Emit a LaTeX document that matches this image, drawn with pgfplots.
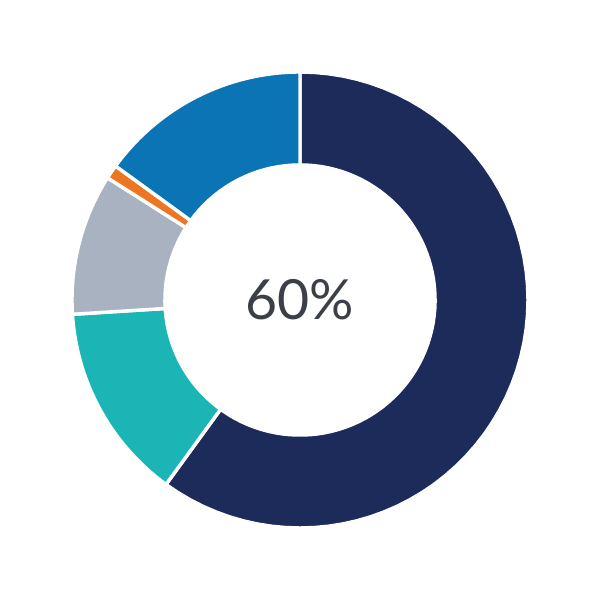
\documentclass[border=0pt]{standalone}
\usepackage{pgfplots}
\pgfplotsset{compat=1.18}
\usepackage{fontspec}
\setmainfont{Lato}
\definecolor{cnavy}{HTML}{1C2B5A}
\definecolor{cteal}{HTML}{1BB5B6}
\definecolor{cgray}{HTML}{A8B2C1}
\definecolor{corange}{HTML}{EE7623}
\definecolor{cblue}{HTML}{0A74B4}
\definecolor{ctext}{HTML}{3B4048}
% shares (percent), clockwise from 12 o'clock
\def\vA{60}\def\vB{14}\def\vC{10}\def\vD{1}\def\vE{15}
\newcommand{\sector}[3]{% start %, end %, colour
  \addplot[fill=#3, draw=white, line width=1.3pt, line join=miter,
    samples at={-1,0,1,...,60,61}, variable=\t]
  ({(\t>=0)*(\t<=60)*sin(3.6*(#1+(#2-#1)*\t/60))},
   {(\t>=0)*(\t<=60)*cos(3.6*(#1+(#2-#1)*\t/60))});
}
\begin{document}
\begin{tikzpicture}
\begin{axis}[
  width=8cm, height=8cm, scale only axis,
  xmin=-1.3158, xmax=1.3158, ymin=-1.3158, ymax=1.3158,
  hide axis, clip=false]
\path (rel axis cs:0,0) rectangle (rel axis cs:1,1);
\pgfmathsetmacro{\cA}{\vA}
\pgfmathsetmacro{\cB}{\cA+\vB}
\pgfmathsetmacro{\cC}{\cB+\vC}
\pgfmathsetmacro{\cD}{\cC+\vD}
\pgfmathsetmacro{\cE}{\cD+\vE}
\sector{0}{\cA}{cnavy}
\sector{\cA}{\cB}{cteal}
\sector{\cB}{\cC}{cgray}
\sector{\cC}{\cD}{corange}
\sector{\cD}{\cE}{cblue}
\addplot[fill=white, draw=none, domain=0:360, samples=120, variable=\t]
  ({0.6*sin(\t)},{0.6*cos(\t)});
\node[text=ctext, font=\fontsize{21}{24}\selectfont, anchor=center] at (axis cs:0,0) {60\%};
\end{axis}
\end{tikzpicture}
\end{document}
